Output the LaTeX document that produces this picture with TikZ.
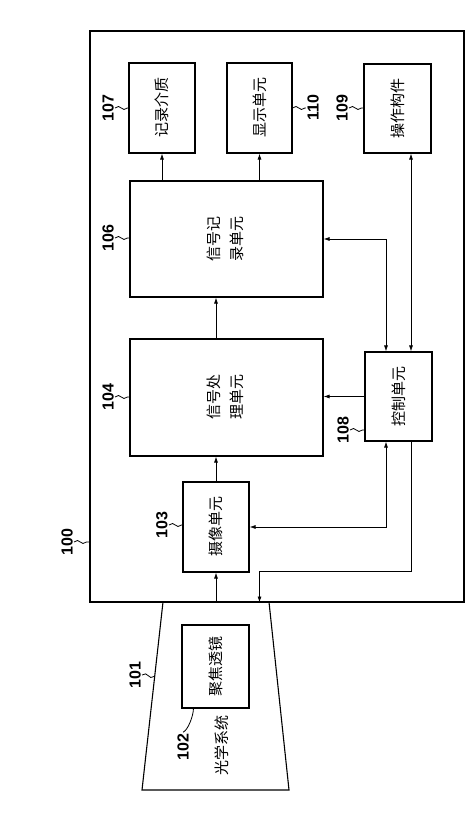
\documentclass[tikz,border=0pt]{standalone}
\usepackage{fontspec}
\newfontfamily\cjk{Noto Sans CJK SC}
\setsansfont{Liberation Sans}
\usetikzlibrary{arrows.meta,calc,decorations.pathmorphing}
\begin{document}
\begin{tikzpicture}[
    unit/.style={draw,rectangle,line width=1.1bp,inner sep=0pt,font=\cjk\fontsize{15bp}{23bp}\selectfont},
    num/.style={rotate=90,inner sep=1bp,font=\sffamily\bfseries\fontsize{16bp}{16bp}\selectfont},
    lead/.style={decorate,decoration={snake,amplitude=1.5bp,segment length=11bp}},
    >={Latex[length=6bp,width=4bp]},
    line width=0.8bp]
  \useasboundingbox (0bp,0bp) rectangle (474bp,824bp);
		%% housing and optics
  \node (Body) at (277bp,507.5bp) [unit,minimum width=374bp,minimum height=571bp] {};
  \coordinate (TL) at (163bp,222bp);
  \coordinate (TR) at (269bp,222bp);
  \coordinate (BR) at (289bp,34bp);
  \coordinate (BL) at (142bp,34bp);
  \draw [line width=1.1bp] (TL) -- (BL) -- (BR) -- (TR);
  \node (Lens) at (215.5bp,157.5bp) [unit,minimum width=67bp,minimum height=83bp] {\rotatebox{90}{聚焦透镜}};
  \node (Optics) at (222bp,78bp) [font=\cjk\fontsize{15bp}{15bp}\selectfont] {\rotatebox{90}{光学系统}};
		%% units
  \node (Medium) at (162bp,716bp) [unit,minimum width=66bp,minimum height=90bp] {\rotatebox{90}{记录介质}};
  \node (Display) at (259.5bp,716bp) [unit,minimum width=65bp,minimum height=90bp] {\rotatebox{90}{显示单元}};
  \node (Keys) at (397.5bp,715.5bp) [unit,minimum width=67bp,minimum height=89bp] {\rotatebox{90}{操作构件}};
  \node (SigRec) at (226.5bp,585bp) [unit,minimum width=193bp,minimum height=116bp] {\rotatebox{90}{\begin{tabular}{@{}c@{}}信号记\\录单元\end{tabular}}};
  \node (SigProc) at (226.5bp,426.5bp) [unit,minimum width=193bp,minimum height=117bp] {\rotatebox{90}{\begin{tabular}{@{}c@{}}信号处\\理单元\end{tabular}}};
  \node (Ctrl) at (398.5bp,427.5bp) [unit,minimum width=67bp,minimum height=89bp] {\rotatebox{90}{控制单元}};
  \node (Imager) at (216bp,297bp) [unit,minimum width=66bp,minimum height=90bp] {\rotatebox{90}{摄像单元}};
		%% reference numbers
  \node (L107) at (108bp,716bp) [num] {107};
  \node (L110) at (313bp,716bp) [num] {110};
  \node (L109) at (342bp,716bp) [num] {109};
  \node (L106) at (108bp,586bp) [num] {106};
  \node (L104) at (108bp,427bp) [num] {104};
  \node (L103) at (162bp,299bp) [num] {103};
  \node (L108) at (343bp,394bp) [num] {108};
  \node (L100) at (67bp,282bp) [num] {100};
  \node (L101) at (135bp,149bp) [num] {101};
  \node (L102) at (183bp,77bp) [num] {102};
  \draw [lead] (L107.south) -- (L107.south -| Medium.west);
  \draw [lead] (Display.east |- L110.north) -- (L110.north);
  \draw [lead] (L109.south) -- (L109.south -| Keys.west);
  \draw [lead] (L106.south) -- (L106.south -| SigRec.west);
  \draw [lead] (L104.south) -- (L104.south -| SigProc.west);
  \draw [lead] (L103.south) -- (L103.south -| Imager.west);
  \draw [lead] (L108.south) -- (L108.south -| Ctrl.west);
  \draw [lead] (L100.south) -- (L100.south -| Body.west);
  \draw [lead] (L101.south) -- ($(TL)!(L101.south)!(BL)$);
  \draw (L102.east) .. controls +(5bp,2bp) and +(0bp,-7bp) .. ([xshift=12bp]Lens.south west);
		%% signal paths
  \draw [->] (SigRec.north -| Medium) -- (Medium.south);
  \draw [->] (SigRec.north -| Display) -- (Display.south);
  \draw [<->] ([xshift=13.5bp]Keys.south) -- ([xshift=13.5bp]Keys.south |- Ctrl.north);
  \draw [<->] (SigRec.east) -| ([xshift=-12.5bp]Ctrl.north);
  \draw [->] (SigProc.north -| Imager) -- (SigRec.south -| Imager);
  \draw [->] (Ctrl.west) -- (Ctrl.west -| SigProc.east);
  \draw [<->] ([xshift=-12.5bp]Ctrl.south) |- (Imager.east);
  \draw [->] (Imager.north) -- (Imager.north |- SigProc.south);
  \draw [->] (Body.south -| Imager) -- (Imager.south);
  \draw [->] ([xshift=12.5bp]Ctrl.south) |- ([yshift=31bp]Body.south -| Display) -- (Body.south -| Display);
		%
\end{tikzpicture}
\end{document}
